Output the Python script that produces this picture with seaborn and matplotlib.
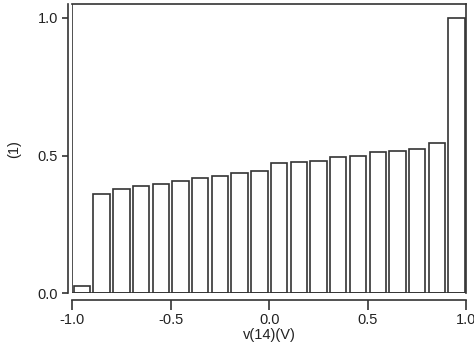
import numpy as np
import pandas as pd
import matplotlib
matplotlib.use("Agg")
import matplotlib.pyplot as plt
import seaborn as sns

# Data
bin_edges = [-1.0, -0.9, -0.8, -0.7, -0.6, -0.5, -0.4, -0.3, -0.2, -0.1, 0.0,
             0.1, 0.2, 0.3, 0.4, 0.5, 0.6, 0.7, 0.8, 0.9, 1.0]
values = [0.028, 0.361, 0.377, 0.389, 0.397, 0.409, 0.417, 0.425, 0.437, 0.444,
          0.472, 0.476, 0.481, 0.495, 0.500, 0.512, 0.516, 0.524, 0.547, 1.0]
x_ticks = [-1.0, -0.5, 0.0, 0.5, 1.0]
y_ticks = [0.0, 0.5, 1.0]
x_label = "v(14)(V)"
y_label = "(1)"

sns.set_style("white")
plt.rcParams['font.family'] = ['Liberation Sans', 'DejaVu Sans']

edges = np.array(bin_edges)
centers = (edges[:-1] + edges[1:]) / 2
df = pd.DataFrame({"v": centers, "w": values})

fig = plt.figure(figsize=(4.74, 3.5), dpi=100)
ax = fig.add_axes([0.152, 0.162, 0.832, 0.8266])

lc = "#333333"
sns.histplot(data=df, x="v", weights="w", bins=list(bin_edges), shrink=0.83,
             color="white", edgecolor=lc, linewidth=1.2, alpha=1, ax=ax)

ax.set_xlim(-1.0, 1.0)
ax.set_ylim(0, 1.05)

# frame lines
ax.axhline(0, color=lc, lw=1.2, zorder=5)
ax.axvline(-1.0, color=lc, lw=1.2, zorder=5)
for s in ["top", "right", "left", "bottom"]:
    ax.spines[s].set_visible(True)
    ax.spines[s].set_color(lc)
    ax.spines[s].set_linewidth(1.2)
ax.spines["bottom"].set_position(("outward", 5))
ax.spines["left"].set_position(("outward", 3))

ax.set_xticks(x_ticks)
ax.set_xticklabels([f"{v:.1f}" for v in x_ticks])
ax.set_yticks(y_ticks)
ax.set_yticklabels([f"{v:.1f}" for v in y_ticks])
ax.tick_params(axis="x", direction="out", length=7, width=1.2, color=lc,
               labelsize=10.5, pad=2, labelcolor="#222222", bottom=True)
ax.tick_params(axis="y", direction="out", length=4, width=1.2, color=lc,
               labelsize=10.5, pad=3, labelcolor="#222222", left=True)

ax.set_xlabel(x_label, fontsize=10.5, color="#222222", labelpad=1)
ax.set_ylabel(y_label, fontsize=10.5, color="#222222", labelpad=12)

fig.savefig("out.png", dpi=100)
